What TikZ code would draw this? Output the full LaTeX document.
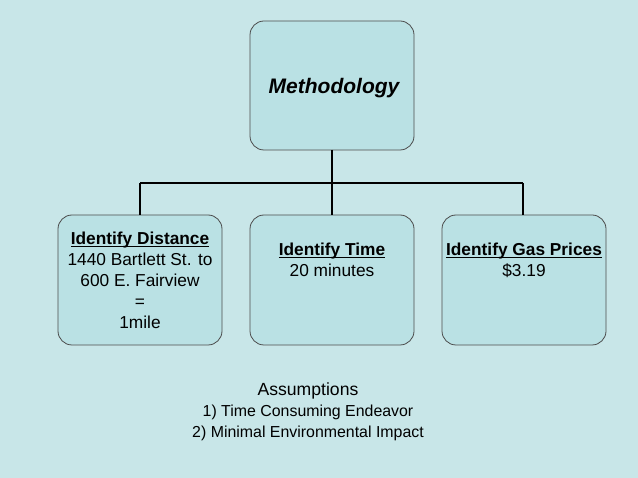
\documentclass[tikz,border=0pt]{standalone}
\usepackage{fontspec}
\setmainfont{Liberation Sans}
\definecolor{bg}{RGB}{200,230,232}
\definecolor{bx}{RGB}{186,225,228}
\newcommand{\ul}[1]{\underline{\smash{#1}}}
\begin{document}
\begin{tikzpicture}[x=1pt,y=-1pt,
  card/.style={draw=black!70,fill=bx,rounded corners=14pt,line width=0.8pt},
  conn/.style={line width=2pt,black}]
\fill[bg] (0,0) rectangle (638,478);
\useasboundingbox (0,0) rectangle (638,478);
\draw[card] (250,21) rectangle (414,150);
\draw[card] (58,215) rectangle (222,345);
\draw[card] (250,215) rectangle (414,345);
\draw[card] (442,215) rectangle (606,345);
\coordinate (top) at (332,150);
\coordinate (j) at (332,183);
\coordinate (l) at (140,183);
\coordinate (r) at (523,183);
\coordinate (lb) at (140,215);
\coordinate (cb) at (332,215);
\coordinate (rb) at (523,215);
\draw[conn] (top) -- (j);
\draw[conn] (l) -- (r);
\draw[conn] (l) -- (lb);
\draw[conn] (j) -- (cb);
\draw[conn] (r) -- (rb);
\node[font=\fontsize{21}{24}\selectfont\bfseries\itshape] (t) at (334,88) {Methodology};
\node[font=\fontsize{17.3}{21}\selectfont,align=center,anchor=north] (a) at (140,241)
 {\textbf{\ul{Identify Distance}}\\1440 Bartlett St. to\\600 E. Fairview\\=\\1mile};
\node[font=\fontsize{17.3}{21}\selectfont,align=center,anchor=north] (b) at (332,252)
 {\textbf{\ul{Identify Time}}\\20 minutes};
\node[font=\fontsize{17.3}{21}\selectfont,align=center,anchor=north] (c) at (524,252)
 {\textbf{\ul{Identify Gas Prices}}\\\$3.19};
\node[font=\fontsize{17.6}{20}\selectfont] (as) at (308,391) {Assumptions};
\node[font=\fontsize{15.9}{21}\selectfont,align=center,anchor=north] (ls) at (308,401)
 {1) Time Consuming Endeavor\\2) Minimal Environmental Impact};
\end{tikzpicture}
\end{document}
